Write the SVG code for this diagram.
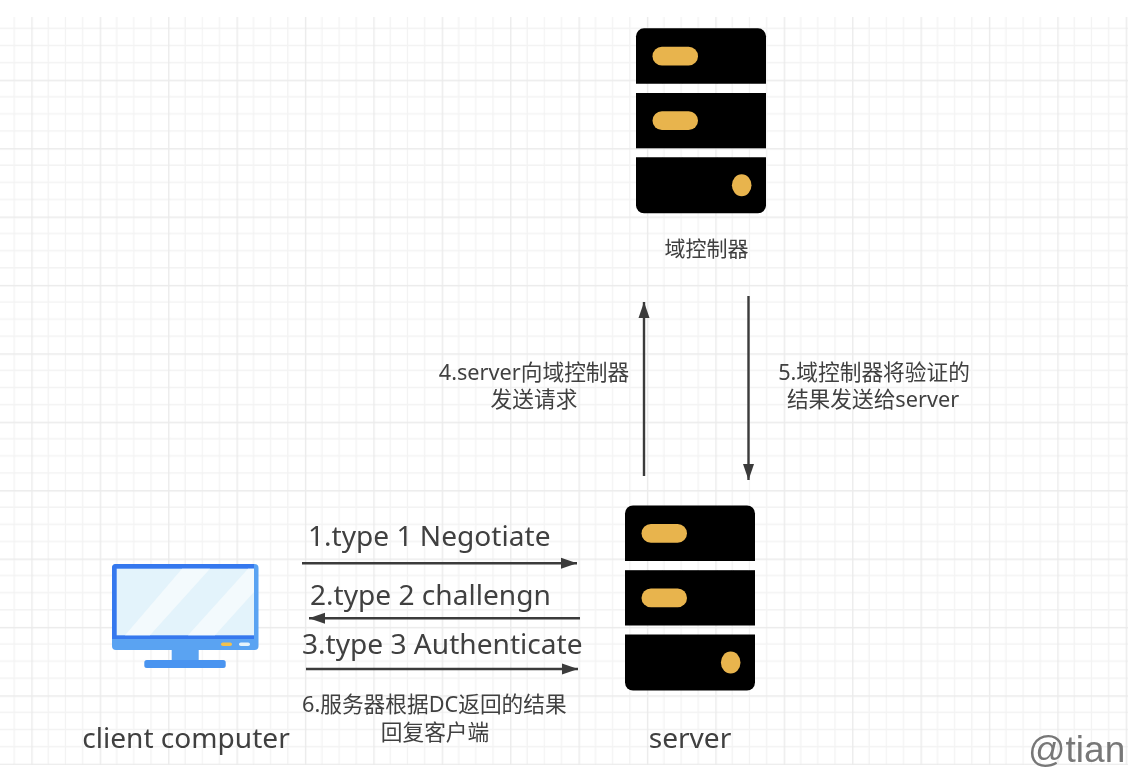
<svg xmlns="http://www.w3.org/2000/svg" width="1133" height="774" viewBox="0 0 1133 774">
<style>
text{font-family:"Noto Sans","Noto Sans CJK SC",sans-serif;fill:#3f3f3f}
.lg{font-size:28.100px}
.md{font-size:21.700px}
.c{text-anchor:middle}
.rack{fill:#000}
.led{fill:#e8b44e}
.wire{stroke:#3a3a3a;stroke-width:2.400;fill:none;marker-end:url(#ah)}
.minor{stroke:#f3f3f3;stroke-width:1.300;fill:none}
.major{stroke:#ebebeb;stroke-width:1.400;fill:none}
</style>
<defs>
<filter id="soft" x="0" y="0" width="100%" height="100%"><feGaussianBlur stdDeviation="0.450"/></filter>
<marker id="ah" markerUnits="userSpaceOnUse" markerWidth="18" markerHeight="14" refX="16" refY="7" orient="auto"><path d="M0 1.500L16 7L0 12.500Z" fill="#3a3a3a"/></marker>
<pattern id="grid" patternUnits="userSpaceOnUse" x="31.300" y="11.300" width="68.400" height="68.400">
<path class="minor" d="M17.100 0V68.400M34.200 0V68.400M51.300 0V68.400M0 17.100H68.400M0 34.200H68.400M0 51.300H68.400"/>
<path class="major" d="M0.700 0V68.400M0 0.700H68.400"/>
</pattern>
<g id="rack">
<path class="rack" d="M0 55.400V8a8 8 0 0 1 8-8H122a8 8 0 0 1 8 8V55.400Z"/>
<rect class="rack" x="0" y="64.700" width="130" height="55.300"/>
<path class="rack" d="M0 129H130V177a8 8 0 0 1-8 8H8a8 8 0 0 1-8-8Z"/>
<rect class="led" x="16.500" y="18.500" width="45.500" height="18.800" rx="9.400"/>
<rect class="led" x="16.500" y="83" width="45.500" height="18.800" rx="9.400"/>
<ellipse class="led" cx="105.700" cy="157" rx="9.800" ry="11"/>
</g>
</defs>
<rect width="1133" height="774" fill="#fff"/>
<g filter="url(#soft)">
<rect id="background-grid" x="0" y="17" width="1128" height="748" fill="url(#grid)"/>
<g id="connectors">
<path class="wire" d="M644 476V302"/>
<path class="wire" d="M748.500 296V480"/>
<path class="wire" d="M302 563.300H577"/>
<path class="wire" d="M580 618.300H309"/>
<path class="wire" d="M306 669H578"/>
</g>
<g id="client-computer">
<rect x="112" y="564" width="146.500" height="86" rx="4" fill="#5aa3f2"/>
<path d="M116 564H254V639H112V568a4 4 0 0 1 4-4Z" fill="#3478ee"/>
<rect x="116.700" y="568.700" width="137.300" height="66.600" fill="#e3f3fb"/>
<path d="M125 635.300L182 568.700H210L150 635.300ZM188 635.300L248 568.700H254V592L215 635.300Z" fill="#f3fafd"/>
<rect x="221" y="642.500" width="11" height="3.600" rx="1.800" fill="#f2c14e"/>
<rect x="239" y="642.500" width="11" height="3.600" rx="1.800" fill="#e6f3fb"/>
<rect x="171.700" y="650" width="27" height="10" fill="#5aa3f2"/>
<rect x="144.300" y="660" width="81.400" height="8" rx="2.500" fill="#4a94f0"/>
<text class="lg c" x="186" y="748">client computer</text>
</g>
<g id="domain-controller">
<use href="#rack" x="636" y="28.300"/>
<text class="c" x="706.500" y="256" style="font-size:21px">域控制器</text>
</g>
<g id="server">
<use href="#rack" x="625" y="505.500"/>
<text class="lg c" x="690" y="748">server</text>
</g>
<g id="labels">
<text class="lg" x="308" y="546">1.type 1 Negotiate</text>
<text class="lg" x="310" y="605">2.type 2 challengn</text>
<text class="lg" x="302" y="654">3.type 3 Authenticate</text>
<text class="md" x="302" y="712">6.服务器根据DC返回的结果</text>
<text class="md c" x="435" y="740">回复客户端</text>
<text class="md c" x="534" y="380">4.server向域控制器</text>
<text class="md c" x="534" y="407">发送请求</text>
<text class="md c" x="874" y="380">5.域控制器将验证的</text>
<text class="md c" x="873" y="407">结果发送给server</text>
<text x="1028" y="762" style="font-family:'Liberation Sans',sans-serif;font-size:37px;fill:#777">@tian</text>
</g>
</g>
</svg>
